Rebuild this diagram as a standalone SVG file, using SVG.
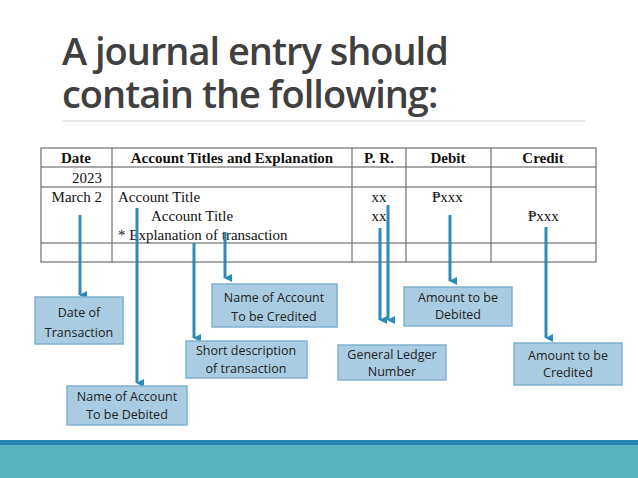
<svg xmlns="http://www.w3.org/2000/svg" width="638" height="478" viewBox="0 0 638 478">
<defs>
<marker id="ah" markerWidth="8" markerHeight="8" refX="4" refY="7" orient="auto" markerUnits="userSpaceOnUse" viewBox="0 0 8 8"><path d="M0,0 L8,0 L4,8 Z" fill="#2e8bb5"/></marker>
</defs>
<style>
.t{font-family:"Liberation Serif",serif;font-size:15px;fill:#111}
.th{font-family:"Liberation Serif",serif;font-size:15px;font-weight:bold;fill:#111}
.g{stroke:#555;stroke-width:1;fill:none}
.box{fill:#a9cce3;stroke:#7fb0d0;stroke-width:1.5}
.bl{font-family:"Open Sans","Noto Sans",sans-serif;font-size:12.5px;fill:#222;text-anchor:middle}
.ar{stroke:#2e8bb5;stroke-width:3;fill:none;marker-end:url(#ah)}
</style>
<rect width="638" height="478" fill="#fff"/>
<g id="title" font-family="Open Sans, Noto Sans, sans-serif" font-size="38" font-weight="600" fill="#404040" letter-spacing="-1">
<text x="62" y="65">A journal entry should</text>
<text x="62" y="108">contain the following:</text>
</g>
<line x1="62" y1="121" x2="585" y2="121" stroke="#d0d0d0"/>
<g id="table">
<rect x="41" y="148" width="555" height="114" class="g"/>
<line x1="41" y1="167" x2="596" y2="167" class="g"/>
<line x1="41" y1="187" x2="596" y2="187" class="g"/>
<line x1="41" y1="243" x2="596" y2="243" class="g"/>
<line x1="112" y1="148" x2="112" y2="262" class="g"/>
<line x1="352" y1="148" x2="352" y2="262" class="g"/>
<line x1="406" y1="148" x2="406" y2="262" class="g"/>
<line x1="491" y1="148" x2="491" y2="262" class="g"/>
<text x="76" y="163" class="th" text-anchor="middle">Date</text>
<text x="232" y="163" class="th" text-anchor="middle">Account Titles and Explanation</text>
<text x="379" y="163" class="th" text-anchor="middle">P. R.</text>
<text x="448" y="163" class="th" text-anchor="middle">Debit</text>
<text x="543" y="163" class="th" text-anchor="middle">Credit</text>
<text x="102" y="183" class="t" text-anchor="end">2023</text>
<text x="102" y="202" class="t" text-anchor="end">March 2</text>
<text x="118" y="202" class="t">Account Title</text>
<text x="151" y="221" class="t">Account Title</text>
<text x="118" y="240" class="t">* Explanation of transaction</text>
<text x="379" y="202" class="t" text-anchor="middle">xx</text>
<text x="379" y="221" class="t" text-anchor="middle">xx</text>
<text x="432" y="202" class="t">₱xxx</text>
<text x="528" y="221" class="t">₱xxx</text>
</g>
<g id="connectors">
<line x1="80" y1="215" x2="80" y2="295" class="ar"/>
<line x1="137" y1="208" x2="137" y2="383" class="ar"/>
<line x1="194" y1="243" x2="194" y2="338" class="ar"/>
<line x1="225" y1="232" x2="225" y2="278" class="ar"/>
<line x1="380" y1="228" x2="380" y2="320" class="ar"/>
<line x1="388" y1="205" x2="388" y2="320" class="ar"/>
<line x1="450" y1="215" x2="450" y2="281" class="ar"/>
<line x1="546" y1="227" x2="546" y2="338" class="ar"/>
</g>
<g id="n1"><rect x="35" y="297" width="88" height="47" class="box"/><text x="79" y="317" class="bl" font-size="14">Date of</text><text x="79" y="337" class="bl" font-size="14">Transaction</text></g>
<g id="n2"><rect x="67" y="386" width="120" height="39" class="box"/><text x="127" y="401" class="bl">Name of Account</text><text x="127" y="419" class="bl">To be Debited</text></g>
<g id="n3"><rect x="186" y="341" width="121" height="37" class="box"/><text x="246" y="355" class="bl">Short description</text><text x="246" y="373" class="bl">of transaction</text></g>
<g id="n4"><rect x="212" y="284" width="125" height="43" class="box"/><text x="274" y="302" class="bl" font-size="14">Name of Account</text><text x="274" y="321" class="bl" font-size="14">To be Credited</text></g>
<g id="n5"><rect x="338" y="345" width="108" height="35" class="box"/><text x="392" y="359" class="bl">General Ledger</text><text x="392" y="376" class="bl">Number</text></g>
<g id="n6"><rect x="404" y="287" width="108" height="39" class="box"/><text x="458" y="302" class="bl">Amount to be</text><text x="458" y="319" class="bl">Debited</text></g>
<g id="n7"><rect x="514" y="343" width="108" height="42" class="box"/><text x="568" y="360" class="bl">Amount to be</text><text x="568" y="377" class="bl">Credited</text></g>
<rect x="0" y="440" width="638" height="5" fill="#2a86b0"/>
<rect x="0" y="445" width="638" height="33" fill="#5ab4c0"/>
</svg>
